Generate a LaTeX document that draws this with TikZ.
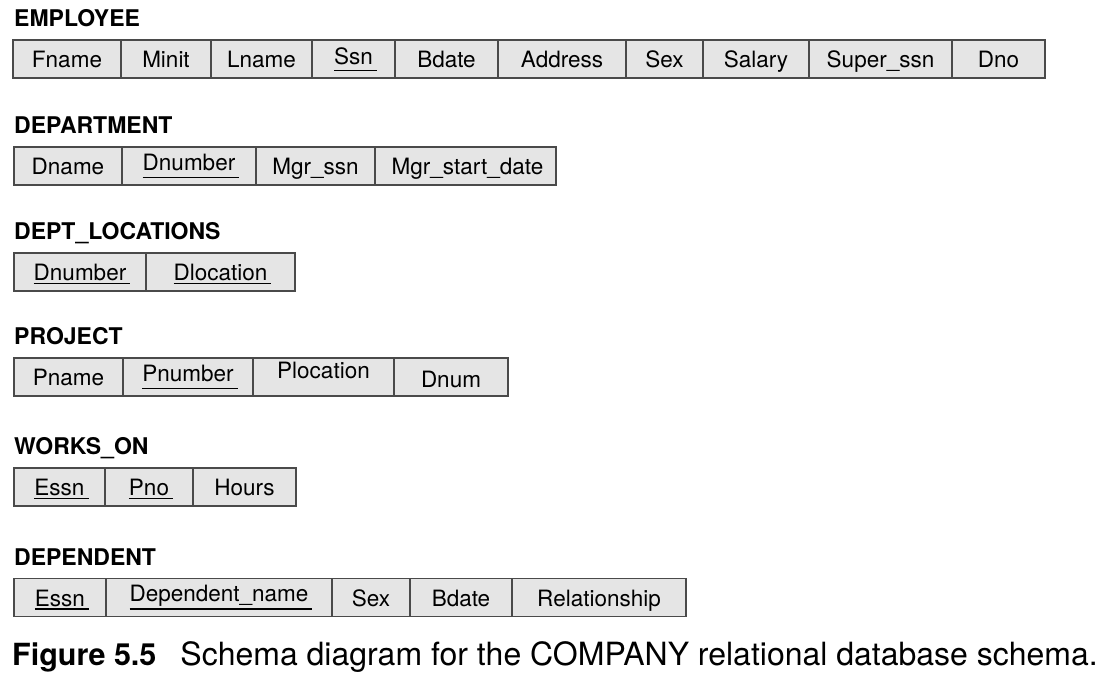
\documentclass[tikz,border=0pt]{standalone}
\usepackage{fontspec}
\setmainfont{TeX Gyre Heros}
\usepackage{tikz}
\usetikzlibrary{positioning}
\definecolor{cellgray}{HTML}{E5E5E5}
\definecolor{linegray}{HTML}{4A4A4A}
\newcommand{\pk}[2][0pt]{\sbox0{#2}\rlap{\rule[-3.5pt]{\dimexpr\wd0+4pt\relax}{1.1pt}}\raisebox{#1}{\usebox0}}
\tikzset{
    cell/.style = {rectangle, draw=linegray, line width=1.3pt, fill=cellgray, inner sep=0pt,
                   minimum height=38pt, text height=18pt, text depth=1pt,
                   font=\fontsize{22.5}{24}\selectfont},
    tabname/.style = {anchor=base west, inner sep=0pt, font=\fontsize{23}{26}\selectfont\bfseries},
    figcap/.style = {anchor=base west, inner sep=0pt, font=\fontsize{32}{36}\selectfont}
}
\begin{document}
\begin{tikzpicture}[x=1pt,y=-1pt]
\path[use as bounding box] (0,0) rectangle (1114,697);
%
\node[tabname] at (14,26) (emp) {EMPLOYEE};
\node[cell,minimum width=108pt] at (67,59) (efname) {Fname};
\node[cell,minimum width=90pt] at (166,59) (eminit) {Minit};
\node[cell,minimum width=101pt] at (261.5,59) (elname) {Lname};
\node[cell,minimum width=83pt] at (353.5,59) (essn) {\pk[3pt]{Ssn}};
\node[cell,minimum width=103pt] at (446.5,59) (ebdate) {Bdate};
\node[cell,minimum width=128pt] at (562,59) (eaddr) {Address};
\node[cell,minimum width=77pt] at (664.5,59) (esex) {Sex};
\node[cell,minimum width=106pt] at (756,59) (esal) {Salary};
\node[cell,minimum width=143pt] at (880.5,59) (esuper) {Super\_ssn};
\node[cell,minimum width=93pt] at (998.5,59) (edno) {Dno};
%
\node[tabname] at (14,133) (dept) {DEPARTMENT};
\node[cell,minimum width=108pt] at (68,166) (ddname) {Dname};
\node[cell,minimum width=134pt] at (189,166) (ddnum) {\pk[4pt]{Dnumber}};
\node[cell,minimum width=119pt] at (315.5,166) (dmgr) {Mgr\_ssn};
\node[cell,minimum width=181pt] at (465.5,166) (dstart) {\hspace{4pt}Mgr\_start\_date};
%
\node[tabname] at (14,239) (dloc) {DEPT\_LOCATIONS};
\node[cell,minimum width=132pt] at (80,272) (ldnum) {\pk{Dnumber}};
\node[cell,minimum width=149pt] at (220.5,272) (lloc) {\pk{Dlocation}\hspace{6pt}};
%
\node[tabname] at (14,344) (proj) {PROJECT};
\node[cell,minimum width=109pt] at (68.5,377) (ppname) {Pname};
\node[cell,minimum width=130pt] at (188,377) (ppnum) {\pk[4pt]{Pnumber}};
\node[cell,minimum width=141pt] at (323.5,377) (pploc) {\raisebox{7pt}{Plocation}};
\node[cell,minimum width=114pt] at (451,377) (pdnum) {\raisebox{-2pt}{Dnum}};
%
\node[tabname] at (14,454) (works) {WORKS\_ON};
\node[cell,minimum width=91pt] at (59.5,487) (wessn) {\pk{Essn}};
\node[cell,minimum width=88pt] at (149,487) (wpno) {\pk{Pno}};
\node[cell,minimum width=103pt] at (244.5,487) (whours) {Hours};
%
\node[tabname] at (14,565) (dpnd) {DEPENDENT};
\node[cell,minimum width=92pt] at (60,597.5) (tessn) {\pk{Essn}};
\node[cell,minimum width=226pt] at (219,597.5) (tname) {\pk[5pt]{Dependent\_name}};
\node[cell,minimum width=78pt] at (371,597.5) (tsex) {Sex};
\node[cell,minimum width=102pt] at (461,597.5) (tbdate) {Bdate};
\node[cell,minimum width=174pt] at (599,597.5) (trel) {Relationship};
%
\node[figcap] at (12,665) (cap) {{\fontsize{30.5}{36}\selectfont\bfseries Figure 5.5}\hspace{24pt}Schema diagram for the COMPANY relational database schema.};

\end{tikzpicture}
\end{document}
